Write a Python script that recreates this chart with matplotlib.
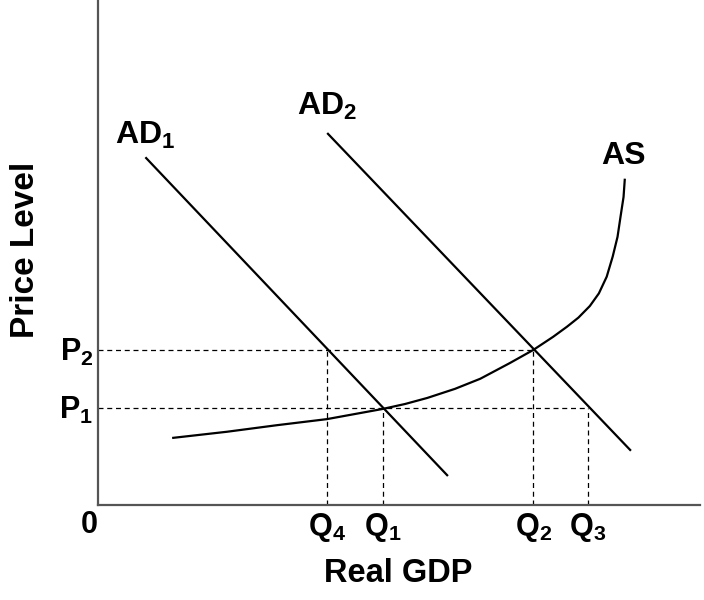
"""AD/AS diagram: demand shift from AD1 to AD2 along an upward-bending AS curve."""

import matplotlib
matplotlib.use("Agg")
import matplotlib.pyplot as plt

plt.rcParams["font.family"] = ["Liberation Sans", "DejaVu Sans"]
plt.rcParams["font.weight"] = "bold"
plt.rcParams["mathtext.fontset"] = "custom"
plt.rcParams["mathtext.rm"] = "Liberation Sans:bold"
plt.rcParams["mathtext.it"] = "Liberation Sans:bold"
plt.rcParams["mathtext.bf"] = "Liberation Sans:bold"

# price and quantity levels (axis units 0..100)
p_levels = {"P1": 19.2, "P2": 30.7}
q_levels = {"Q4": 38.0, "Q1": 47.3, "Q2": 72.3, "Q3": 81.4}

# aggregate demand lines (two end points each)
ad1_x = [8.0, 58.0]
ad1_y = [68.7, 5.9]
ad2_x = [38.2, 88.4]
ad2_y = [73.5, 10.9]

# aggregate supply curve, read point by point
as_x = [12.5, 21.4, 29.7, 38.0, 47.2, 51.0, 54.7, 59.3, 63.5, 68.4, 72.3,
        75.6, 77.9, 79.8, 81.7, 83.2, 84.5, 85.5, 86.3, 86.8, 87.3, 87.5]
as_y = [13.3, 14.5, 15.8, 17.0, 19.0, 20.0, 21.2, 23.0, 25.0, 28.1, 30.7,
        33.3, 35.3, 37.1, 39.4, 41.9, 45.2, 49.2, 53.1, 57.1, 61.0, 64.4]

fig = plt.figure(figsize=(7.04, 6.0), dpi=100)
ax = fig.add_axes([98 / 704, 95 / 600, 602 / 704, 505 / 600])
ax.set_xlim(0, 100)
ax.set_ylim(0, 100)

for side in ["top", "right"]:
    ax.spines[side].set_visible(False)
for side in ["left", "bottom"]:
    ax.spines[side].set_color("#555555")
    ax.spines[side].set_linewidth(1.6)
ax.set_xticks([])
ax.set_yticks([])

dash = dict(color="black", linewidth=0.9, linestyle=(0, (4, 3)))

# horizontal guides out to the AD2 crossings
ax.plot([0, q_levels["Q2"]], [p_levels["P2"]] * 2, **dash)
ax.plot([0, q_levels["Q3"]], [p_levels["P1"]] * 2, **dash)
# vertical guides down to the axis
ax.plot([q_levels["Q4"]] * 2, [0, p_levels["P2"]], **dash)
ax.plot([q_levels["Q1"]] * 2, [0, p_levels["P1"]], **dash)
ax.plot([q_levels["Q2"]] * 2, [0, p_levels["P2"]], **dash)
ax.plot([q_levels["Q3"]] * 2, [0, p_levels["P1"]], **dash)

ax.plot(ad1_x, ad1_y, color="black", linewidth=1.6)
ax.plot(ad2_x, ad2_y, color="black", linewidth=1.6)
ax.plot(as_x, as_y, color="black", linewidth=1.6, solid_joinstyle="round")

ax.text(2.8, 71.5, r"AD$_1$", fontsize=23, ha="left", va="baseline")
ax.text(33.0, 77.2, r"AD$_2$", fontsize=23, ha="left", va="baseline")
ax.text(83.6, 67.6, "AS", fontsize=23, ha="left", va="baseline")

for name, q in q_levels.items():
    ax.text(q, -5.9, r"Q$_%s$" % name[1], fontsize=22, ha="center",
            va="baseline", clip_on=False)
for name, p in p_levels.items():
    ax.text(-0.8, p - 2.2, r"P$_%s$" % name[1], fontsize=22, ha="right",
            va="baseline", clip_on=False)
ax.text(-1.5, -5.5, "0", fontsize=22, ha="center", va="baseline", clip_on=False)

fig.text(25 / 704, 1 - 250 / 600, "Price Level", fontsize=24, rotation=90,
         ha="center", va="center")
fig.text(398 / 704, 1 - 573 / 600, "Real GDP", fontsize=23.5, ha="center",
         va="center")

fig.savefig("out.png", dpi=100, facecolor="white")
